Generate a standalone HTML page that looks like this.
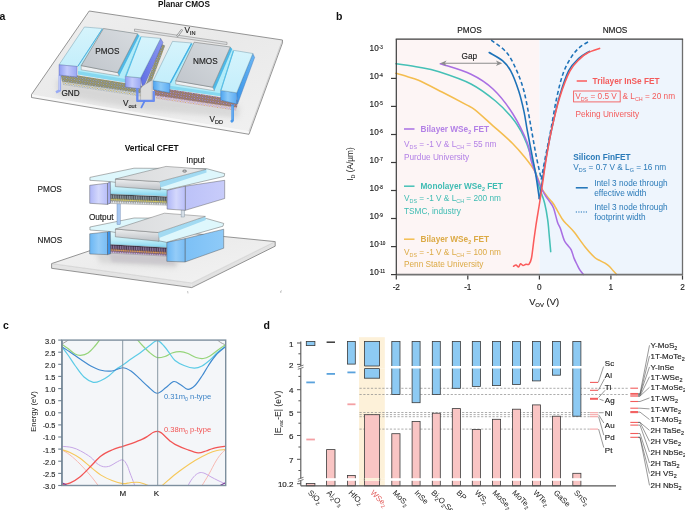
<!DOCTYPE html>
<html><head><meta charset="utf-8"><style>
html,body{margin:0;padding:0;background:#fff;}
svg{display:block;opacity:0.999;}
text{font-family:"Liberation Sans",sans-serif;}
</style></head><body>
<svg width="685" height="510" viewBox="0 0 685 510">
<rect width="685" height="510" fill="#fff"/>
<defs>
<linearGradient id="gSub" x1="0" y1="0" x2="1" y2="1"><stop offset="0" stop-color="#efefef"/><stop offset="0.5" stop-color="#e9e9e9"/><stop offset="1" stop-color="#f1f1f1"/></linearGradient>
<linearGradient id="gCyanTop" x1="0" y1="0" x2="0" y2="1"><stop offset="0" stop-color="#d6f4fc"/><stop offset="1" stop-color="#c4eefb"/></linearGradient>
<linearGradient id="gGate" x1="1" y1="0" x2="0" y2="1"><stop offset="0" stop-color="#d8dce0"/><stop offset="1" stop-color="#c0c5cb"/></linearGradient>
<linearGradient id="gPurpF" x1="0" y1="0" x2="1" y2="0"><stop offset="0" stop-color="#8e9cf2"/><stop offset="0.45" stop-color="#c3cbfb"/><stop offset="1" stop-color="#9aa7f4"/></linearGradient>
<linearGradient id="gPurpS" x1="0" y1="0" x2="1" y2="0"><stop offset="0" stop-color="#5f6fe4"/><stop offset="1" stop-color="#8b98f0"/></linearGradient>
<linearGradient id="gBlueF" x1="0" y1="0" x2="1" y2="0"><stop offset="0" stop-color="#4ea4f0"/><stop offset="0.45" stop-color="#8ccaf8"/><stop offset="1" stop-color="#5aaaf2"/></linearGradient>
<linearGradient id="gBlueS" x1="0" y1="0" x2="1" y2="0"><stop offset="0" stop-color="#3c96e8"/><stop offset="1" stop-color="#6ab6f4"/></linearGradient>
<linearGradient id="gGateF" x1="0" y1="0" x2="0" y2="1"><stop offset="0" stop-color="#eeeff0"/><stop offset="1" stop-color="#bcc0c5"/></linearGradient>
<linearGradient id="gU" x1="0" y1="0" x2="0" y2="1"><stop offset="0" stop-color="#e6f9fd"/><stop offset="0.55" stop-color="#c0eef9"/><stop offset="1" stop-color="#80d2ee"/></linearGradient>
<linearGradient id="gGate2" x1="0" y1="0" x2="1" y2="0"><stop offset="0" stop-color="#d9dbdd"/><stop offset="1" stop-color="#e8e9ea"/></linearGradient>
<linearGradient id="gLavF" x1="0" y1="0" x2="1" y2="0"><stop offset="0" stop-color="#aeb6f7"/><stop offset="0.5" stop-color="#d4d8fc"/><stop offset="1" stop-color="#b8bef8"/></linearGradient>
<linearGradient id="gLavS" x1="0" y1="0" x2="1" y2="0"><stop offset="0" stop-color="#bcc2f8"/><stop offset="1" stop-color="#c8ccfa"/></linearGradient>
<linearGradient id="gSkyF" x1="0" y1="0" x2="1" y2="0"><stop offset="0" stop-color="#6ab6f4"/><stop offset="0.5" stop-color="#94ccf8"/><stop offset="1" stop-color="#78bcf4"/></linearGradient>
<linearGradient id="gSkyS" x1="0" y1="0" x2="1" y2="0"><stop offset="0" stop-color="#7cc0f6"/><stop offset="1" stop-color="#8ecaf8"/></linearGradient>
<pattern id="latP" width="2.7" height="2.5" patternUnits="userSpaceOnUse" patternTransform="rotate(9)"><rect width="2.7" height="2.5" fill="#80847e"/><circle cx="0.8" cy="0.8" r="0.62" fill="#d2be3c"/><circle cx="2.15" cy="2.0" r="0.55" fill="#a4b2c2"/></pattern><pattern id="latP2" width="2.7" height="2.5" patternUnits="userSpaceOnUse" patternTransform="rotate(9)"><rect width="2.7" height="2.5" fill="#d4d6d8"/><circle cx="0.8" cy="0.8" r="0.6" fill="#7e90a6"/><circle cx="2.15" cy="2.0" r="0.55" fill="#bca848"/></pattern><pattern id="latN" width="2.7" height="2.5" patternUnits="userSpaceOnUse" patternTransform="rotate(9)"><rect width="2.7" height="2.5" fill="#84707a"/><circle cx="0.8" cy="0.8" r="0.62" fill="#dc9840"/><circle cx="2.15" cy="2.0" r="0.55" fill="#c09ad8"/></pattern><pattern id="latN2" width="2.7" height="2.5" patternUnits="userSpaceOnUse" patternTransform="rotate(9)"><rect width="2.7" height="2.5" fill="#dad2da"/><circle cx="0.8" cy="0.8" r="0.6" fill="#a880c8"/><circle cx="2.15" cy="2.0" r="0.55" fill="#d0a060"/></pattern>
<pattern id="latPc" width="2.3" height="10" patternUnits="userSpaceOnUse" patternTransform="translate(108.5,194) skewY(2.44)"><rect width="2.3" height="10" fill="#e4e6e8"/><rect width="2.3" height="5.2" fill="#4c545c"/><rect y="0" width="2.3" height="0.8" fill="#2e3238"/><rect x="0.4" y="0.8" width="0.55" height="3.6" fill="#dfe4ea"/><rect y="5.2" width="2.3" height="2.6" fill="#8c9096"/><circle cx="1.3" cy="5.4" r="0.85" fill="#e2d24e"/><circle cx="0.4" cy="7.6" r="0.6" fill="#f4f6f8"/><circle cx="1.6" cy="8.4" r="0.45" fill="#7d8894"/></pattern><pattern id="latNc" width="2.3" height="10" patternUnits="userSpaceOnUse" patternTransform="translate(108.5,244.3) skewY(3.3)"><rect width="2.3" height="10" fill="#e8e2ea"/><rect width="2.3" height="5.2" fill="#4a3a52"/><rect y="0" width="2.3" height="0.8" fill="#2e2234"/><rect x="0.4" y="0.8" width="0.55" height="3.6" fill="#d8b8e8"/><rect y="5.2" width="2.3" height="2.6" fill="#6e5a78"/><circle cx="1.3" cy="5.4" r="0.85" fill="#ec9e46"/><circle cx="0.4" cy="7.6" r="0.65" fill="#d4a8ec"/><circle cx="1.6" cy="8.4" r="0.45" fill="#8a64a8"/></pattern>
<filter id="blur2" x="-20%" y="-20%" width="140%" height="140%"><feGaussianBlur stdDeviation="2.5"/></filter><filter id="blur1" x="-20%" y="-30%" width="140%" height="160%"><feGaussianBlur stdDeviation="1.6"/></filter><linearGradient id="gSub2" x1="0" y1="0" x2="1" y2="1"><stop offset="0" stop-color="#f2f2f2"/><stop offset="0.5" stop-color="#ececec"/><stop offset="1" stop-color="#f3f3f3"/></linearGradient>
</defs>
<polygon points="31.5,94.5 249.0,131.3 249.0,134.3 31.5,97.5" fill="#f8f8f8" stroke="none" stroke-width="0.50" stroke-linejoin="round" />
<polygon points="282.5,40.0 282.5,42.8 249.0,134.3 249.0,131.3" fill="#f4f4f4" stroke="none" stroke-width="0.50" stroke-linejoin="round" />
<polygon points="89.2,11.0 282.5,40.0 249.0,131.3 31.5,94.5" fill="url(#gSub)" stroke="none" stroke-width="0.50" stroke-linejoin="round" />
<polyline points="31.5,94.5 89.2,11 282.5,40 282.5,42.8 249,134.3 31.5,97.5 31.5,94.5" fill="none" stroke="#6a6a6a" stroke-width="0.7" stroke-linejoin="round"/>
<line x1="282.5" y1="40" x2="249" y2="131.3" stroke="#9a9a9a" stroke-width="0.4"/>
<polygon points="56.0,80.0 150.0,94.0 240.0,106.0 238.0,118.0 150.0,111.0 58.0,95.0" fill="#c4c4c4" stroke="none" stroke-width="0.50" stroke-linejoin="round" filter="url(#blur2)" opacity="0.5"/>
<polygon points="134.5,29.0 227.0,42.3 227.0,44.6 134.5,31.3" fill="#dfe1e3" stroke="#7a7a7a" stroke-width="0.50" stroke-linejoin="round" />
<polyline points="177.6,35.6 181.6,30.4" fill="none" stroke="#7a7a7a" stroke-width="2.2" stroke-linecap="round"/>
<polyline points="177.6,35.6 181.6,30.4" fill="none" stroke="#dfe1e3" stroke-width="1.1" stroke-linecap="round"/>
<polygon points="62.0,81.0 143.0,93.0 143.0,97.0 63.0,85.0" fill="url(#latP2)" stroke="none" stroke-width="0.50" stroke-linejoin="round" />
<polygon points="155.0,95.0 237.0,107.0 236.0,110.8 156.0,98.8" fill="url(#latN2)" stroke="none" stroke-width="0.50" stroke-linejoin="round" />
<polygon points="60.0,72.5 143.0,86.0 143.0,93.5 62.0,81.5" fill="url(#latP)" stroke="none" stroke-width="0.50" stroke-linejoin="round" />
<polygon points="153.0,86.5 238.0,100.0 237.0,107.5 155.0,95.5" fill="url(#latN)" stroke="none" stroke-width="0.50" stroke-linejoin="round" />
<polyline points="59.8,75 59.8,90.3 56,92.3" fill="none" stroke="#98aaf4" stroke-width="2.6" stroke-linejoin="round"/>
<polyline points="59.5,76 59.5,90" fill="none" stroke="#c8d0fa" stroke-width="0.8"/>
<polygon points="102.5,28.5 138.0,33.8 140.9,36.6 125.5,76.3 125.5,82.5 78.0,74.5 78.0,67.5" fill="#b2ecf9" stroke="none" stroke-width="0.50" stroke-linejoin="round" />
<polygon points="78.0,71.0 125.5,79.0 125.5,82.5 78.0,74.5" fill="#86d8f0" stroke="none" stroke-width="0.50" stroke-linejoin="round" />
<polygon points="84.4,27.0 102.5,28.5 77.5,66.5 59.0,64.8" fill="url(#gCyanTop)" stroke="#5a8aa0" stroke-width="0.40" stroke-linejoin="round" />
<polygon points="59.0,64.8 77.0,66.5 77.0,77.0 59.0,75.0" fill="url(#gPurpF)" stroke="#5a64b0" stroke-width="0.40" stroke-linejoin="round" />
<line x1="102.3" y1="29" x2="77.8" y2="66.5" stroke="#46b6e8" stroke-width="1.0"/>
<polygon points="137.6,33.8 139.3,35.8 119.2,76.0 117.6,72.6" fill="#4fb8e6" stroke="none" stroke-width="0.50" stroke-linejoin="round" />
<polygon points="81.2,65.6 117.6,72.6 119.2,76.0 81.2,69.8" fill="#eef0f2" stroke="#7a7a7a" stroke-width="0.40" stroke-linejoin="round" />
<polygon points="103.5,28.5 137.6,33.8 117.6,72.6 81.2,65.6" fill="url(#gGate)" stroke="#6a6a6a" stroke-width="0.50" stroke-linejoin="round" />
<polygon points="161.5,44.0 165.2,45.5 146.5,95.0 142.6,93.0" fill="url(#latP)" stroke="none" stroke-width="0.50" stroke-linejoin="round" />
<polygon points="160.6,38.4 163.0,42.5 142.8,88.8 140.6,77.8" fill="url(#gPurpS)" stroke="#4a50a0" stroke-width="0.40" stroke-linejoin="round" />
<polygon points="125.3,76.3 140.6,77.8 140.6,88.8 125.3,87.0" fill="url(#gPurpF)" stroke="#5a64b0" stroke-width="0.40" stroke-linejoin="round" />
<polygon points="140.9,36.6 160.6,38.4 140.6,77.8 125.3,76.3" fill="url(#gCyanTop)" stroke="#5a8aa0" stroke-width="0.40" stroke-linejoin="round" />
<line x1="140.9" y1="37.1" x2="126" y2="76" stroke="#52c0ea" stroke-width="1.1"/>
<polygon points="140.6,88.8 142.5,86.0 152.2,80.0 152.2,101.3 140.6,101.3" fill="#dcdcdc" stroke="#8a8a8a" stroke-width="0.40" stroke-linejoin="round" />
<polyline points="137.3,88 137.3,100.9 153.8,100.9 153.8,91" fill="none" stroke="#6a8cf0" stroke-width="2.3" stroke-linejoin="round"/>
<line x1="144.6" y1="101.2" x2="141.4" y2="107.4" stroke="#5f86ee" stroke-width="1.8" stroke-linecap="round"/>
<polygon points="191.8,43.0 230.3,47.0 233.5,50.3 220.7,90.4 220.7,96.2 170.1,89.0 170.1,83.2" fill="#b2ecf9" stroke="none" stroke-width="0.50" stroke-linejoin="round" />
<polygon points="170.1,85.8 220.7,93.2 220.7,96.2 170.1,89.0" fill="#86d8f0" stroke="none" stroke-width="0.50" stroke-linejoin="round" />
<polygon points="153.2,80.8 170.1,83.2 169.5,92.8 153.2,89.5" fill="url(#gBlueF)" stroke="#3a70b0" stroke-width="0.40" stroke-linejoin="round" />
<polygon points="172.5,41.4 191.8,43.0 170.1,83.2 153.2,80.8" fill="url(#gCyanTop)" stroke="#5a8aa0" stroke-width="0.40" stroke-linejoin="round" />
<line x1="191.5" y1="43.6" x2="170.4" y2="82.9" stroke="#3fb2e6" stroke-width="1.3"/>
<polygon points="230.3,47.0 232.2,49.0 214.4,90.8 212.6,87.2" fill="#4fb8e6" stroke="none" stroke-width="0.50" stroke-linejoin="round" />
<polygon points="175.7,80.8 212.6,87.2 214.4,90.8 175.7,84.2" fill="#eef0f2" stroke="#7a7a7a" stroke-width="0.40" stroke-linejoin="round" />
<polygon points="194.2,42.2 230.3,47.0 212.6,87.2 175.7,80.8" fill="url(#gGate)" stroke="#6a6a6a" stroke-width="0.50" stroke-linejoin="round" />
<polygon points="252.8,53.5 254.6,57.5 237.6,104.0 236.7,92.8" fill="url(#gBlueS)" stroke="#3a70b0" stroke-width="0.40" stroke-linejoin="round" />
<polygon points="220.7,90.4 236.7,92.8 236.7,104.0 220.7,100.0" fill="url(#gBlueF)" stroke="#3a70b0" stroke-width="0.40" stroke-linejoin="round" />
<polygon points="233.5,50.3 252.8,53.5 236.7,92.8 220.7,90.4" fill="url(#gCyanTop)" stroke="#5a8aa0" stroke-width="0.40" stroke-linejoin="round" />
<line x1="233.4" y1="51" x2="221" y2="90.1" stroke="#52c0ea" stroke-width="1.1"/>
<polyline points="232.6,104.5 232.6,120.5 231,122" fill="none" stroke="#4a98ea" stroke-width="2.6" stroke-linejoin="round"/>
<line x1="232.1" y1="106" x2="232.1" y2="119.5" stroke="#8cc4f6" stroke-width="0.7"/>
<text x="107.4" y="54.3" font-size="8.20" fill="#222" stroke="#222" stroke-width="0.15" text-anchor="middle" font-weight="normal" >PMOS</text>
<text x="205.4" y="64.4" font-size="8.20" fill="#222" stroke="#222" stroke-width="0.15" text-anchor="middle" font-weight="normal" >NMOS</text>
<text x="61.4" y="96.1" font-size="8.20" fill="#222" stroke="#222" stroke-width="0.15" text-anchor="start" font-weight="normal" >GND</text>
<text x="123.0" y="106.1" font-size="8.20" fill="#222" stroke="#222" stroke-width="0.15" text-anchor="start" font-weight="normal" >V<tspan font-size="5.6" baseline-shift="-1.6">out</tspan></text>
<text x="184.4" y="33.2" font-size="8.20" fill="#222" stroke="#222" stroke-width="0.15" text-anchor="start" font-weight="normal" >V<tspan font-size="5.6" baseline-shift="-1.6">IN</tspan></text>
<text x="209.6" y="121.8" font-size="8.20" fill="#222" stroke="#222" stroke-width="0.15" text-anchor="start" font-weight="normal" >V<tspan font-size="5.6" baseline-shift="-1.6">DD</tspan></text>
<text x="158.0" y="6.7" font-size="8.20" fill="#111" stroke="#111" stroke-width="0.00" text-anchor="start" font-weight="bold" >Planar CMOS</text>
<text x="-0.4" y="19.6" font-size="10.50" fill="#111" stroke="#111" stroke-width="0.00" text-anchor="start" font-weight="bold" >a</text>
<polygon points="51.6,263.6 191.8,283.0 191.8,287.6 51.6,268.3" fill="#e4e4e4" stroke="none" stroke-width="0.50" stroke-linejoin="round" />
<polygon points="191.8,283.0 275.2,241.6 275.2,246.2 191.8,287.6" fill="#e2e2e2" stroke="none" stroke-width="0.50" stroke-linejoin="round" />
<polygon points="152.7,229.5 275.2,241.6 191.8,283.0 51.6,263.6" fill="url(#gSub2)" stroke="none" stroke-width="0.50" stroke-linejoin="round" />
<polyline points="51.6,268.3 51.6,263.6 152.7,229.5 275.2,241.6 275.2,246.2 191.8,287.6 51.6,268.3" fill="none" stroke="#6a6a6a" stroke-width="0.7" stroke-linejoin="round"/>
<polyline points="51.6,263.6 191.8,283.0 275.2,241.6" fill="none" stroke="#b4b4b4" stroke-width="0.4"/>
<polygon points="92.0,245.0 190.0,248.0 175.0,268.0 100.0,263.0" fill="#c4c4c4" stroke="none" stroke-width="0.50" stroke-linejoin="round" filter="url(#blur2)" opacity="0.5"/>
<polygon points="108.0,252.0 168.0,255.5 176.0,265.0 112.0,262.0" fill="#c8c4ca" stroke="none" stroke-width="0.50" stroke-linejoin="round" filter="url(#blur1)" opacity="0.8"/>
<polygon points="108.5,231.0 166.8,240.0 166.8,248.0 108.5,244.8" fill="url(#gU)" stroke="none" stroke-width="0.50" stroke-linejoin="round" />
<polygon points="108.5,244.3 166.8,247.6 166.8,256.2 108.5,253.0" fill="url(#latNc)" stroke="#555" stroke-width="0.30" stroke-linejoin="round" />
<polygon points="89.7,233.8 107.5,231.9 107.5,254.6 89.7,254.0" fill="url(#gSkyF)" stroke="#555" stroke-width="0.45" stroke-linejoin="round" />
<polygon points="107.5,231.9 110.3,230.5 110.6,253.8 107.5,254.6" fill="#3c94ea" stroke="#555" stroke-width="0.45" stroke-linejoin="round" />
<polygon points="185.0,238.7 223.7,229.2 223.7,248.2 185.0,262.0" fill="url(#gSkyS)" stroke="#555" stroke-width="0.45" stroke-linejoin="round" />
<polygon points="166.8,242.3 185.0,238.7 185.0,262.0 166.8,261.3" fill="url(#gSkyF)" stroke="#555" stroke-width="0.45" stroke-linejoin="round" />
<polygon points="89.9,227.0 134.0,218.0 206.5,218.5 223.7,223.4 223.0,226.2 166.5,242.3 110.2,231.5 89.9,230.0" fill="#def7fc" stroke="#555" stroke-width="0.45" stroke-linejoin="round" />
<polygon points="115.4,229.0 158.0,232.5 159.0,234.0 159.0,241.3 115.4,236.8" fill="url(#gGateF)" stroke="#666" stroke-width="0.45" stroke-linejoin="round" />
<polygon points="158.0,232.5 205.4,216.4 205.8,220.0 159.0,238.0" fill="#a2daf2" stroke="none" stroke-width="0.50" stroke-linejoin="round" />
<polygon points="115.4,229.0 164.4,213.2 205.4,216.4 158.0,232.5" fill="url(#gGate2)" stroke="#666" stroke-width="0.45" stroke-linejoin="round" />
<rect x="117" y="200" width="3.2" height="24.5" fill="#a8c8f2" stroke="#6080b0" stroke-width="0.4"/>
<rect x="181.1" y="208" width="3.4" height="9" fill="#d4dde6" stroke="#7a8a9a" stroke-width="0.4"/>
<polygon points="108.5,181.0 167.1,189.5 167.1,196.0 108.5,194.5" fill="url(#gU)" stroke="none" stroke-width="0.50" stroke-linejoin="round" />
<polygon points="108.5,194.0 167.1,196.5 167.1,205.2 108.5,203.4" fill="url(#latPc)" stroke="#555" stroke-width="0.30" stroke-linejoin="round" />
<polygon points="89.7,185.3 107.5,183.2 107.5,204.4 89.7,203.3" fill="url(#gLavF)" stroke="#555" stroke-width="0.45" stroke-linejoin="round" />
<polygon points="107.5,183.2 110.3,181.8 110.6,202.9 107.5,204.4" fill="#a4acf2" stroke="#555" stroke-width="0.45" stroke-linejoin="round" />
<polygon points="185.3,186.2 224.7,180.3 224.7,198.5 185.3,210.3" fill="url(#gLavS)" stroke="#555" stroke-width="0.45" stroke-linejoin="round" />
<polygon points="167.1,190.3 185.3,186.2 185.3,210.3 167.1,209.1" fill="url(#gLavF)" stroke="#555" stroke-width="0.45" stroke-linejoin="round" />
<polygon points="89.9,177.4 134.0,168.2 206.5,168.6 224.7,173.6 224.2,176.4 167.1,189.8 110.2,181.6 89.9,180.3" fill="#def7fc" stroke="#555" stroke-width="0.45" stroke-linejoin="round" />
<polygon points="115.4,179.0 159.6,181.7 160.5,183.0 160.5,190.0 115.4,186.6" fill="url(#gGateF)" stroke="#666" stroke-width="0.45" stroke-linejoin="round" />
<polygon points="159.6,181.7 206.2,169.3 206.6,172.5 160.5,187.5" fill="#a2daf2" stroke="none" stroke-width="0.50" stroke-linejoin="round" />
<polygon points="115.4,179.0 166.0,166.4 206.2,169.3 159.6,181.7" fill="url(#gGate2)" stroke="#666" stroke-width="0.45" stroke-linejoin="round" />
<ellipse cx="184.6" cy="171.1" rx="1.9" ry="1.1" fill="#c8ccd0" stroke="#444" stroke-width="0.55"/>
<text x="37.6" y="192.1" font-size="8.20" fill="#222" stroke="#222" stroke-width="0.15" text-anchor="start" font-weight="normal" >PMOS</text>
<text x="37.6" y="242.7" font-size="8.20" fill="#222" stroke="#222" stroke-width="0.15" text-anchor="start" font-weight="normal" >NMOS</text>
<text x="88.9" y="219.8" font-size="8.20" fill="#222" stroke="#222" stroke-width="0.15" text-anchor="start" font-weight="normal" >Output</text>
<text x="186.3" y="162.9" font-size="8.20" fill="#222" stroke="#222" stroke-width="0.15" text-anchor="start" font-weight="normal" >Input</text>
<text x="124.7" y="150.9" font-size="8.40" fill="#111" stroke="#111" stroke-width="0.00" text-anchor="start" font-weight="bold" >Vertical CFET</text>
<path d="M187.6,291 l0.4,2.4" stroke="#999" stroke-width="0.6"/>
<path d="M280.6,291.2 q0.6,-0.8 1.2,-0.4 M280.8,291 l0,2" stroke="#999" stroke-width="0.6" fill="none"/>
<rect x="396.3" y="39.2" width="143.1" height="235.4" fill="#fdf5f5"/>
<rect x="539.4" y="39.2" width="143.1" height="235.4" fill="#eef5fd"/>
<g fill="none" stroke-linecap="round" stroke-linejoin="round">
<path d="M396.0,73.3 C397.8,73.8 403.2,75.3 407.0,76.5 C410.8,77.7 412.7,77.7 418.5,80.3 C424.3,82.9 434.1,88.0 442.0,92.0 C449.9,96.0 460.1,101.4 465.6,104.4 C471.1,107.4 470.4,106.2 475.0,109.8 C479.6,113.4 486.7,120.2 493.0,125.8 C499.3,131.4 507.3,138.2 512.6,143.5 C517.9,148.8 521.2,152.8 525.0,157.6 C528.8,162.3 532.5,166.9 535.2,172.0 C538.0,177.1 539.3,183.6 541.5,188.0 C543.7,192.4 546.6,195.6 548.6,198.3 C550.6,201.0 551.2,200.5 553.5,204.0 C555.8,207.5 560.0,215.6 562.4,219.2 C564.8,222.8 566.0,223.4 568.0,225.5 C570.0,227.6 571.3,228.5 574.1,232.0 C576.9,235.5 581.5,242.4 584.9,246.7 C588.3,250.9 592.2,255.2 594.7,257.5 C597.2,259.8 598.3,259.7 600.0,260.6 C601.7,261.6 603.4,262.2 605.0,263.2 C606.6,264.2 608.2,265.3 609.5,266.5 C610.8,267.7 611.8,269.2 613.0,270.5 C614.2,271.8 616.0,273.8 616.6,274.5" stroke="#f4bd4f" stroke-width="1.55"/>
<path d="M396.0,63.7 C399.8,64.3 411.8,65.9 419.0,67.2 C426.2,68.5 430.3,69.0 439.0,71.8 C447.7,74.6 461.6,79.1 471.0,84.0 C480.4,88.9 488.6,95.3 495.5,101.0 C502.4,106.7 508.2,113.1 512.6,118.4 C517.0,123.7 519.5,128.5 522.0,133.0 C524.5,137.5 525.7,140.9 527.4,145.4 C529.1,149.9 530.6,155.6 532.0,160.0 C533.4,164.4 534.4,167.7 535.5,172.0 C536.6,176.3 537.8,182.2 538.8,185.9 C539.8,189.7 540.8,191.6 541.8,194.5 C542.8,197.4 543.7,199.4 544.7,203.5 C545.7,207.6 546.9,213.9 547.6,219.2 C548.4,224.4 548.7,229.6 549.2,235.0 C549.7,240.4 550.5,248.8 550.7,251.6" stroke="#45c0b6" stroke-width="1.55"/>
<path d="M440.3,63.7 C445.4,65.5 462.2,70.0 471.0,74.2 C479.8,78.4 486.1,82.5 493.0,89.0 C499.9,95.5 506.9,104.5 512.6,113.5 C518.3,122.5 524.3,135.2 527.4,143.0 C530.5,150.8 529.7,155.2 531.0,160.0 C532.3,164.8 533.7,168.2 535.0,172.0 C536.3,175.8 537.8,179.4 539.0,182.5 C540.2,185.6 541.3,188.2 542.5,190.5 C543.7,192.8 544.8,194.7 546.0,196.5 C547.2,198.3 548.4,199.7 549.6,201.6 C550.9,203.5 552.2,204.6 553.5,208.0 C554.8,211.4 556.4,218.8 557.5,222.2 C558.6,225.6 559.3,225.4 560.4,228.5 C561.5,231.6 563.1,237.8 564.3,240.5 C565.5,243.2 566.4,243.4 567.5,245.0 C568.6,246.6 570.1,247.6 571.2,249.8 C572.3,252.0 573.1,255.9 574.1,258.4 C575.1,260.8 576.0,262.5 577.0,264.5 C578.0,266.5 578.9,268.5 580.0,270.2 C581.1,271.9 582.9,273.8 583.5,274.5" stroke="#a96fe3" stroke-width="1.55"/>
<path d="M489.2,52.5 C491.4,53.9 498.9,57.6 502.5,60.7 C506.1,63.8 508.0,65.8 510.7,70.9 C513.4,76.0 516.6,84.5 518.8,91.3 C521.0,98.1 522.6,105.2 524.0,111.7 C525.4,118.2 526.0,123.6 527.2,130.0 C528.4,136.4 529.6,142.8 531.0,150.0 C532.4,157.2 534.1,164.9 535.5,173.0 C536.9,181.1 538.7,194.4 539.3,198.7" stroke="#1d72b8" stroke-width="1.55"/>
<path d="M539.3,198.7 C539.8,195.6 541.4,186.8 542.5,180.0 C543.6,173.2 544.5,166.3 546.0,158.0 C547.5,149.7 549.3,140.1 551.5,130.0 C553.7,119.9 556.4,107.2 559.2,97.4 C562.1,87.6 565.3,77.4 568.6,70.9 C571.9,64.4 575.3,61.7 578.8,58.4 C582.3,55.1 587.6,52.5 589.4,51.3" stroke="#1d72b8" stroke-width="1.55"/>
<path d="M491.2,40.2 C493.8,42.2 502.3,47.4 506.6,52.5 C510.9,57.6 513.9,64.4 516.8,70.9 C519.7,77.4 522.0,83.8 524.0,91.3 C526.0,98.8 527.8,109.3 529.0,115.8 C530.2,122.2 530.3,123.5 531.5,130.0 C532.7,136.5 534.4,146.8 536.0,155.0 C537.6,163.2 540.4,175.2 541.3,179.3" stroke="#1d72b8" stroke-width="1.55" stroke-dasharray="4.0,2.6" stroke-linecap="butt"/>
<path d="M541.3,179.3 C541.9,176.1 543.2,168.2 544.8,160.0 C546.4,151.8 548.8,140.4 550.8,130.0 C552.8,119.6 554.7,106.9 556.8,97.4 C558.9,87.9 560.8,79.7 563.3,72.9 C565.8,66.1 568.9,60.9 571.6,56.6 C574.3,52.4 576.7,50.0 579.6,47.4 C582.5,44.8 587.7,42.2 589.3,41.2" stroke="#1d72b8" stroke-width="1.55" stroke-dasharray="4.0,2.6" stroke-linecap="butt"/>
<path d="M513.6,266.3 C514.0,266.1 515.2,264.9 516.0,265.0 C516.8,265.1 517.8,267.2 518.5,267.0 C519.2,266.8 519.8,264.1 520.5,263.8 C521.2,263.6 522.1,265.4 523.0,265.5 C523.9,265.6 525.0,264.4 526.0,264.2 C527.0,264.0 528.1,265.2 529.0,264.2 C529.9,263.2 530.8,261.5 531.5,258.0 C532.2,254.5 532.8,248.5 533.5,243.0 C534.2,237.5 535.1,231.2 536.0,225.0 C536.9,218.8 537.9,213.4 539.1,206.0 C540.3,198.6 541.9,188.3 543.0,180.6 C544.1,172.9 544.6,168.4 546.0,160.0 C547.4,151.6 549.2,140.4 551.5,130.0 C553.8,119.6 556.6,107.2 559.7,97.4 C562.8,87.6 566.6,77.4 570.0,70.9 C573.4,64.4 577.1,61.7 580.1,58.6 C583.1,55.5 585.0,54.2 588.3,52.5 C591.5,50.8 597.7,49.1 599.6,48.4" stroke="#fb5b5b" stroke-width="1.55"/>
</g>
<g stroke="#8c8c8c" stroke-width="1.1" fill="none"><line x1="443" y1="63.2" x2="499.5" y2="63.2"/></g>
<path d="M440.2,63.2 L446.6,60.4 L444.8,63.2 L446.6,66.0 Z" fill="#8c8c8c"/><path d="M502.3,63.2 L495.9,60.4 L497.7,63.2 L495.9,66.0 Z" fill="#8c8c8c"/>
<text x="469.3" y="59.0" font-size="8.25" fill="#222" stroke="#222" stroke-width="0.15" text-anchor="middle" font-weight="normal" >Gap</text>
<line x1="682.5" y1="39.2" x2="682.5" y2="274.6" stroke="#6e6e6e" stroke-width="1.3"/>
<line x1="396.3" y1="274.6" x2="683.1" y2="274.6" stroke="#727272" stroke-width="1.8"/>
<line x1="395.7" y1="39.2" x2="683.1" y2="39.2" stroke="#3c3c3c" stroke-width="1.2"/>
<line x1="396.3" y1="39.2" x2="396.3" y2="275.5" stroke="#3c3c3c" stroke-width="1.2"/>
<text x="369.6" y="51.1" font-size="8.2" fill="#222" stroke="#222" stroke-width="0.15">10<tspan font-size="4.6" baseline-shift="2.2">-3</tspan></text>
<line x1="391.0" y1="78.4" x2="396.3" y2="78.4" stroke="#3c3c3c" stroke-width="1.2"/>
<text x="369.6" y="79.1" font-size="8.2" fill="#222" stroke="#222" stroke-width="0.15">10<tspan font-size="4.6" baseline-shift="2.2">-4</tspan></text>
<line x1="391.0" y1="106.4" x2="396.3" y2="106.4" stroke="#3c3c3c" stroke-width="1.2"/>
<text x="369.6" y="107.1" font-size="8.2" fill="#222" stroke="#222" stroke-width="0.15">10<tspan font-size="4.6" baseline-shift="2.2">-5</tspan></text>
<line x1="391.0" y1="134.5" x2="396.3" y2="134.5" stroke="#3c3c3c" stroke-width="1.2"/>
<text x="369.6" y="135.2" font-size="8.2" fill="#222" stroke="#222" stroke-width="0.15">10<tspan font-size="4.6" baseline-shift="2.2">-6</tspan></text>
<line x1="391.0" y1="162.5" x2="396.3" y2="162.5" stroke="#3c3c3c" stroke-width="1.2"/>
<text x="369.6" y="163.2" font-size="8.2" fill="#222" stroke="#222" stroke-width="0.15">10<tspan font-size="4.6" baseline-shift="2.2">-7</tspan></text>
<line x1="391.0" y1="190.5" x2="396.3" y2="190.5" stroke="#3c3c3c" stroke-width="1.2"/>
<text x="369.6" y="191.2" font-size="8.2" fill="#222" stroke="#222" stroke-width="0.15">10<tspan font-size="4.6" baseline-shift="2.2">-8</tspan></text>
<line x1="391.0" y1="218.5" x2="396.3" y2="218.5" stroke="#3c3c3c" stroke-width="1.2"/>
<text x="369.6" y="219.2" font-size="8.2" fill="#222" stroke="#222" stroke-width="0.15">10<tspan font-size="4.6" baseline-shift="2.2">-9</tspan></text>
<line x1="391.0" y1="246.6" x2="396.3" y2="246.6" stroke="#3c3c3c" stroke-width="1.2"/>
<text x="369.6" y="247.3" font-size="8.2" fill="#222" stroke="#222" stroke-width="0.15">10<tspan font-size="4.6" baseline-shift="2.2">-10</tspan></text>
<line x1="391.0" y1="274.6" x2="396.3" y2="274.6" stroke="#3c3c3c" stroke-width="1.2"/>
<text x="369.6" y="275.3" font-size="8.2" fill="#222" stroke="#222" stroke-width="0.15">10<tspan font-size="4.6" baseline-shift="2.2">-11</tspan></text>
<line x1="396.3" y1="275.5" x2="396.3" y2="279.6" stroke="#3c3c3c" stroke-width="1.2"/>
<text x="396.3" y="290.0" font-size="8.25" fill="#222" stroke="#222" stroke-width="0.15" text-anchor="middle" font-weight="normal" >-2</text>
<line x1="467.8" y1="275.5" x2="467.8" y2="279.6" stroke="#3c3c3c" stroke-width="1.2"/>
<text x="467.8" y="290.0" font-size="8.25" fill="#222" stroke="#222" stroke-width="0.15" text-anchor="middle" font-weight="normal" >-1</text>
<line x1="539.4" y1="275.5" x2="539.4" y2="279.6" stroke="#3c3c3c" stroke-width="1.2"/>
<text x="539.4" y="290.0" font-size="8.25" fill="#222" stroke="#222" stroke-width="0.15" text-anchor="middle" font-weight="normal" >0</text>
<line x1="610.9" y1="275.5" x2="610.9" y2="279.6" stroke="#3c3c3c" stroke-width="1.2"/>
<text x="610.9" y="290.0" font-size="8.25" fill="#222" stroke="#222" stroke-width="0.15" text-anchor="middle" font-weight="normal" >1</text>
<line x1="682.5" y1="275.5" x2="682.5" y2="279.6" stroke="#3c3c3c" stroke-width="1.2"/>
<text x="682.5" y="290.0" font-size="8.25" fill="#222" stroke="#222" stroke-width="0.15" text-anchor="middle" font-weight="normal" >2</text>
<text x="544.1" y="305.2" font-size="9.30" fill="#222" stroke="#222" stroke-width="0.15" text-anchor="middle" font-weight="normal" >V<tspan font-size="6.0" baseline-shift="-2.1">OV</tspan> (V)</text>
<text transform="translate(353.3,164) rotate(-90)" font-size="8.3" fill="#222" text-anchor="middle">I<tspan font-size="5.4" baseline-shift="-2.0">D</tspan> (A/µm)</text>
<text x="469.5" y="33.0" font-size="8.25" fill="#222" stroke="#222" stroke-width="0.15" text-anchor="middle" font-weight="normal" >PMOS</text>
<text x="615.0" y="33.0" font-size="8.25" fill="#222" stroke="#222" stroke-width="0.15" text-anchor="middle" font-weight="normal" >NMOS</text>
<text x="335.9" y="19.5" font-size="10.50" fill="#111" stroke="#111" stroke-width="0.00" text-anchor="start" font-weight="bold" >b</text>
<line x1="404" y1="129" x2="414.5" y2="129" stroke="#a96fe3" stroke-width="1.5"/>
<text x="420.5" y="132.0" font-size="8.25" fill="#b380e6" stroke="#b380e6" stroke-width="0.00" text-anchor="start" font-weight="bold" >Bilayer WSe<tspan font-size="5.4" baseline-shift="-2.0">2</tspan> FET</text>
<text x="404.0" y="146.5" font-size="8.25" fill="#b380e6" stroke="#b380e6" stroke-width="0.00" text-anchor="start" font-weight="normal" >V<tspan font-size="5.4" baseline-shift="-2.0">DS</tspan> = -1 V &amp; L<tspan font-size="5.4" baseline-shift="-2.0">CH</tspan> = 55 nm</text>
<text x="404.0" y="159.6" font-size="8.25" fill="#b380e6" stroke="#b380e6" stroke-width="0.00" text-anchor="start" font-weight="normal" >Purdue University</text>
<line x1="404" y1="186.2" x2="414.5" y2="186.2" stroke="#45c0b6" stroke-width="1.5"/>
<text x="420.5" y="189.0" font-size="8.25" fill="#3fbcb3" stroke="#3fbcb3" stroke-width="0.00" text-anchor="start" font-weight="bold" >Monolayer WSe<tspan font-size="5.4" baseline-shift="-2.0">2</tspan> FET</text>
<text x="404.0" y="201.0" font-size="8.25" fill="#3fbcb3" stroke="#3fbcb3" stroke-width="0.00" text-anchor="start" font-weight="normal" >V<tspan font-size="5.4" baseline-shift="-2.0">DS</tspan> = -1 V &amp; L<tspan font-size="5.4" baseline-shift="-2.0">CH</tspan> = 200 nm</text>
<text x="404.0" y="213.8" font-size="8.25" fill="#3fbcb3" stroke="#3fbcb3" stroke-width="0.00" text-anchor="start" font-weight="normal" >TSMC, industry</text>
<line x1="404" y1="239.2" x2="414.5" y2="239.2" stroke="#f4bd4f" stroke-width="1.5"/>
<text x="420.5" y="242.0" font-size="8.25" fill="#dcaa45" stroke="#dcaa45" stroke-width="0.00" text-anchor="start" font-weight="bold" >Bilayer WSe<tspan font-size="5.4" baseline-shift="-2.0">2</tspan> FET</text>
<text x="404.0" y="254.5" font-size="8.25" fill="#dcaa45" stroke="#dcaa45" stroke-width="0.00" text-anchor="start" font-weight="normal" >V<tspan font-size="5.4" baseline-shift="-2.0">DS</tspan> = -1 V &amp; L<tspan font-size="5.4" baseline-shift="-2.0">CH</tspan> = 100 nm</text>
<text x="404.0" y="267.1" font-size="8.25" fill="#dcaa45" stroke="#dcaa45" stroke-width="0.00" text-anchor="start" font-weight="normal" >Penn State University</text>
<line x1="576.7" y1="81" x2="587" y2="81" stroke="#fb5b5b" stroke-width="1.5"/>
<text x="592.6" y="84.0" font-size="8.25" fill="#f45b5b" stroke="#f45b5b" stroke-width="0.00" text-anchor="start" font-weight="bold" >Trilayer InSe FET</text>
<rect x="573.6" y="91" width="46.6" height="10.9" fill="none" stroke="#f45b5b" stroke-width="0.9"/>
<text x="575.2" y="99.0" font-size="8.25" fill="#f45b5b" stroke="#f45b5b" stroke-width="0.00" text-anchor="start" font-weight="normal" >V<tspan font-size="5.4" baseline-shift="-2.0">DS</tspan> = 0.5 V</text>
<text x="622.5" y="99.0" font-size="8.25" fill="#f45b5b" stroke="#f45b5b" stroke-width="0.00" text-anchor="start" font-weight="normal" >&amp; L<tspan font-size="5.4" baseline-shift="-2.0">CH</tspan> = 20 nm</text>
<text x="575.4" y="116.6" font-size="8.25" fill="#f45b5b" stroke="#f45b5b" stroke-width="0.00" text-anchor="start" font-weight="normal" >Peking University</text>
<text x="573.3" y="159.6" font-size="8.25" fill="#2a7ab8" stroke="#2a7ab8" stroke-width="0.00" text-anchor="start" font-weight="bold" >Silicon FinFET</text>
<text x="573.3" y="170.0" font-size="8.25" fill="#2a7ab8" stroke="#2a7ab8" stroke-width="0.00" text-anchor="start" font-weight="normal" >V<tspan font-size="5.4" baseline-shift="-2.0">DS</tspan> = 0.7 V &amp; L<tspan font-size="5.4" baseline-shift="-2.0">G</tspan> = 16 nm</text>
<line x1="575.8" y1="187.8" x2="587.8" y2="187.8" stroke="#1d72b8" stroke-width="1.5"/>
<text x="594.2" y="186.0" font-size="8.25" fill="#2a7ab8" stroke="#2a7ab8" stroke-width="0.00" text-anchor="start" font-weight="normal" >Intel 3 node through</text>
<text x="594.2" y="196.2" font-size="8.25" fill="#2a7ab8" stroke="#2a7ab8" stroke-width="0.00" text-anchor="start" font-weight="normal" >effective width</text>
<line x1="575.8" y1="212" x2="587.8" y2="212" stroke="#1d72b8" stroke-width="1.2" stroke-dasharray="1.2,1.3"/>
<text x="594.2" y="209.6" font-size="8.25" fill="#2a7ab8" stroke="#2a7ab8" stroke-width="0.00" text-anchor="start" font-weight="normal" >Intel 3 node through</text>
<text x="594.2" y="219.8" font-size="8.25" fill="#2a7ab8" stroke="#2a7ab8" stroke-width="0.00" text-anchor="start" font-weight="normal" >footprint width</text>
<rect x="61.9" y="340.1" width="163.8" height="145.4" fill="#f4f6f9"/>
<defs><clipPath id="cclip"><rect x="61.9" y="340.1" width="163.8" height="145.4"/></clipPath></defs>
<g clip-path="url(#cclip)" fill="none" stroke-width="1.2" stroke-linecap="round">
<path d="M61.5,344.2 C61.9,344.0 63.1,343.3 64.0,342.8 C64.9,342.3 66.0,341.7 67.0,341.0 C68.0,340.3 69.5,338.9 70.0,338.5" stroke="#9a9a9a" stroke-width="0.9"/>
<path d="M216.0,338.5 C216.5,339.0 217.9,340.5 219.0,341.3 C220.1,342.1 221.3,342.9 222.5,343.5 C223.7,344.1 225.4,344.8 226.0,345.0" stroke="#9a9a9a" stroke-width="0.9"/>
<path d="M61.5,344.0 C62.6,344.8 65.8,346.8 68.0,348.5 C70.2,350.2 72.9,352.9 75.0,354.0 C77.1,355.1 78.3,355.6 80.5,355.4 C82.7,355.2 85.6,354.6 88.0,353.0 C90.4,351.4 92.8,348.5 95.0,346.0 C97.2,343.5 100.0,339.3 101.0,338.0" stroke="#95d47a"/>
<path d="M136.0,338.0 C137.0,339.2 139.8,342.7 142.0,345.0 C144.2,347.3 146.5,349.9 149.0,352.0 C151.5,354.1 154.5,356.8 157.2,357.5 C159.9,358.2 162.5,357.2 165.0,356.5 C167.5,355.8 169.5,353.8 172.0,353.0 C174.5,352.2 177.5,351.5 180.2,351.6 C182.9,351.7 185.4,352.5 188.0,353.5 C190.6,354.5 193.5,356.7 196.0,357.5 C198.5,358.3 200.9,358.8 203.2,358.5 C205.5,358.2 207.5,357.4 210.0,356.0 C212.5,354.6 215.3,351.9 218.0,350.0 C220.7,348.1 224.7,345.4 226.0,344.5" stroke="#95d47a"/>
<path d="M61.5,346.3 C62.6,347.8 65.7,351.7 68.0,355.0 C70.3,358.3 72.7,362.3 75.4,366.0 C78.1,369.7 81.0,374.3 84.0,377.0 C87.0,379.7 90.5,381.7 93.3,382.3 C96.1,382.9 98.4,381.6 101.0,380.5 C103.6,379.4 106.2,377.7 108.7,375.9 C111.2,374.1 113.7,371.3 116.0,369.5 C118.3,367.7 120.2,366.9 122.7,365.1 C125.2,363.4 128.1,361.0 131.0,359.0 C133.9,357.0 137.0,355.2 140.0,353.0 C143.0,350.8 146.1,348.1 149.0,346.0 C151.9,343.9 154.7,340.6 157.2,340.6 C159.7,340.6 161.9,343.8 164.0,346.0 C166.1,348.2 168.2,351.6 170.0,354.0 C171.8,356.4 172.7,358.6 175.0,360.5 C177.3,362.4 180.8,364.2 184.0,365.5 C187.2,366.8 191.2,368.1 194.2,368.2 C197.2,368.3 199.4,367.4 202.0,366.0 C204.6,364.6 207.3,362.3 210.0,360.0 C212.7,357.7 215.4,354.2 218.0,352.0 C220.6,349.8 224.4,347.4 225.7,346.5" stroke="#5ccbe6"/>
<path d="M61.5,346.5 C62.9,347.4 66.8,349.9 70.0,352.0 C73.2,354.1 77.0,357.0 80.5,359.3 C84.0,361.6 87.4,364.2 90.8,366.0 C94.2,367.8 97.5,369.5 101.0,370.3 C104.5,371.1 108.4,371.4 112.0,371.0 C115.6,370.6 119.5,367.7 122.7,367.7 C125.9,367.7 128.2,369.2 131.0,371.0 C133.8,372.8 136.5,375.8 139.3,378.4 C142.1,381.0 145.0,384.0 148.0,386.5 C151.0,389.0 154.2,393.1 157.2,393.3 C160.2,393.5 163.2,389.5 166.0,387.5 C168.8,385.5 171.3,381.9 173.8,381.5 C176.3,381.1 178.7,383.7 181.0,385.0 C183.3,386.3 185.6,389.3 187.9,389.4 C190.2,389.5 192.7,387.7 195.0,385.5 C197.3,383.3 199.8,379.3 202.0,376.0 C204.2,372.7 206.0,369.2 208.3,365.7 C210.6,362.2 213.1,358.2 216.0,355.0 C218.9,351.8 224.1,347.9 225.7,346.5" stroke="#4089cf" stroke-width="1.15"/>
<path d="M61.5,449.6 C62.9,450.5 66.9,452.6 70.0,455.0 C73.1,457.4 76.7,460.7 80.0,464.0 C83.3,467.3 86.9,471.4 90.0,475.0 C93.1,478.6 97.0,484.0 98.4,485.8" stroke="#f7b9b2" stroke-width="1"/>
<path d="M201.9,485.8 C203.1,483.8 206.7,478.1 209.0,474.0 C211.3,469.9 214.0,464.3 216.0,461.0 C218.0,457.7 219.4,455.9 221.0,454.0 C222.6,452.1 224.9,450.3 225.7,449.6" stroke="#f7b9b2" stroke-width="1"/>
<path d="M61.5,446.3 C63.2,446.5 68.8,446.7 72.0,447.5 C75.2,448.3 77.4,449.3 80.5,450.9 C83.6,452.5 88.0,455.2 90.8,457.3 C93.5,459.4 94.9,461.9 97.0,463.5 C99.1,465.1 101.3,466.3 103.5,466.7 C105.7,467.1 107.9,466.7 110.0,466.0 C112.1,465.3 113.9,463.5 116.0,462.5 C118.1,461.5 120.9,459.4 122.7,459.8 C124.5,460.2 125.8,462.8 127.0,465.0 C128.2,467.2 128.8,469.8 130.0,473.0 C131.2,476.2 133.2,481.2 134.2,484.0 C135.2,486.8 135.7,489.0 136.0,490.0" stroke="#c6a6e6" stroke-width="1"/>
<path d="M186.0,490.0 C186.7,488.7 188.5,484.4 190.0,482.0 C191.5,479.6 193.3,477.1 195.0,475.5 C196.7,473.9 198.4,472.9 200.1,472.6 C201.8,472.3 203.2,472.8 205.0,473.5 C206.8,474.2 208.8,475.7 211.0,476.9 C213.2,478.1 215.6,479.3 218.0,480.5 C220.4,481.7 224.4,483.4 225.7,484.0" stroke="#c6a6e6" stroke-width="1"/>
<path d="M61.5,449.6 C62.9,450.1 66.8,451.0 70.0,452.5 C73.2,454.0 77.2,456.2 80.5,458.5 C83.8,460.8 86.6,463.7 90.0,466.5 C93.4,469.3 97.3,472.8 101.0,475.1 C104.7,477.4 108.4,479.1 112.0,480.5 C115.6,481.9 119.7,483.2 122.7,483.6 C125.7,484.0 127.7,482.9 130.0,482.7 C132.3,482.5 134.6,482.2 136.8,482.3 C139.0,482.4 141.1,482.9 143.0,483.5 C144.9,484.1 146.8,485.0 148.3,485.6 C149.8,486.2 151.4,486.8 152.0,487.0" stroke="#f6c85a" stroke-width="1.1"/>
<path d="M158.0,487.0 C158.7,486.7 160.0,487.1 162.3,485.4 C164.6,483.7 168.6,479.8 172.0,477.0 C175.4,474.2 178.9,471.6 182.7,468.8 C186.5,466.1 190.7,463.1 195.0,460.5 C199.3,457.9 204.6,455.1 208.3,453.4 C212.0,451.7 214.1,451.1 217.0,450.5 C219.9,449.9 224.2,449.8 225.7,449.6" stroke="#f6c85a" stroke-width="1.1"/>
<path d="M61.5,484.6 C63.0,484.3 67.1,484.2 70.3,482.8 C73.5,481.4 77.0,479.2 80.5,476.4 C84.0,473.6 87.6,469.4 91.0,466.0 C94.4,462.6 97.5,458.7 101.0,456.0 C104.5,453.3 108.4,451.6 112.0,450.0 C115.6,448.4 119.4,447.4 122.7,446.3 C126.0,445.2 128.8,444.5 132.0,443.3 C135.2,442.1 139.2,440.6 141.9,439.4 C144.6,438.2 146.2,437.1 148.0,436.0 C149.8,434.9 151.5,433.3 153.0,432.5 C154.5,431.7 155.9,431.3 157.2,431.3 C158.5,431.3 159.7,431.8 161.0,432.6 C162.3,433.4 163.5,434.8 165.0,436.2 C166.5,437.6 168.3,439.6 170.0,441.0 C171.7,442.4 172.2,442.9 175.0,444.3 C177.8,445.7 183.2,448.1 187.0,449.5 C190.8,450.9 194.9,452.6 198.1,452.9 C201.3,453.1 203.4,451.8 206.0,451.0 C208.6,450.2 210.1,449.1 213.4,448.3 C216.7,447.5 223.6,446.6 225.7,446.3" stroke="#f25555" stroke-width="1.3"/>
<path d="M61.5,482.5 C61.9,482.7 63.1,483.3 64.0,483.8 C64.9,484.3 66.5,485.2 67.0,485.5" stroke="#7a3a9a" stroke-width="1.1"/>
<path d="M220.0,485.5 C220.5,485.2 222.0,484.5 223.0,484.0 C224.0,483.5 225.5,482.8 226.0,482.5" stroke="#7a3a9a" stroke-width="1.1"/>
</g>
<line x1="122.7" y1="340.1" x2="122.7" y2="485.5" stroke="#7d8d9b" stroke-width="0.9"/>
<line x1="157.7" y1="340.1" x2="157.7" y2="485.5" stroke="#7d8d9b" stroke-width="0.9"/>
<rect x="61.9" y="340.1" width="163.8" height="145.4" fill="none" stroke="#7d8f9e" stroke-width="1.4"/>
<line x1="61.9" y1="340.1" x2="61.9" y2="485.5" stroke="#7d8f9e" stroke-width="1.8"/>
<line x1="58.2" y1="340.1" x2="61.9" y2="340.1" stroke="#6f8190" stroke-width="1.1"/>
<text x="55.4" y="343.5" font-size="7.40" fill="#222" stroke="#222" stroke-width="0.15" text-anchor="end" font-weight="normal" >3.0</text>
<line x1="58.2" y1="352.2" x2="61.9" y2="352.2" stroke="#6f8190" stroke-width="1.1"/>
<text x="55.4" y="355.6" font-size="7.40" fill="#222" stroke="#222" stroke-width="0.15" text-anchor="end" font-weight="normal" >2.5</text>
<line x1="58.2" y1="364.3" x2="61.9" y2="364.3" stroke="#6f8190" stroke-width="1.1"/>
<text x="55.4" y="367.7" font-size="7.40" fill="#222" stroke="#222" stroke-width="0.15" text-anchor="end" font-weight="normal" >2.0</text>
<line x1="58.2" y1="376.4" x2="61.9" y2="376.4" stroke="#6f8190" stroke-width="1.1"/>
<text x="55.4" y="379.8" font-size="7.40" fill="#222" stroke="#222" stroke-width="0.15" text-anchor="end" font-weight="normal" >1.5</text>
<line x1="58.2" y1="388.6" x2="61.9" y2="388.6" stroke="#6f8190" stroke-width="1.1"/>
<text x="55.4" y="392.0" font-size="7.40" fill="#222" stroke="#222" stroke-width="0.15" text-anchor="end" font-weight="normal" >1.0</text>
<line x1="58.2" y1="400.7" x2="61.9" y2="400.7" stroke="#6f8190" stroke-width="1.1"/>
<text x="55.4" y="404.1" font-size="7.40" fill="#222" stroke="#222" stroke-width="0.15" text-anchor="end" font-weight="normal" >0.5</text>
<line x1="58.2" y1="412.8" x2="61.9" y2="412.8" stroke="#6f8190" stroke-width="1.1"/>
<text x="55.4" y="416.2" font-size="7.40" fill="#222" stroke="#222" stroke-width="0.15" text-anchor="end" font-weight="normal" >0.0</text>
<line x1="58.2" y1="424.9" x2="61.9" y2="424.9" stroke="#6f8190" stroke-width="1.1"/>
<text x="55.4" y="428.3" font-size="7.40" fill="#222" stroke="#222" stroke-width="0.15" text-anchor="end" font-weight="normal" >-0.5</text>
<line x1="58.2" y1="437.0" x2="61.9" y2="437.0" stroke="#6f8190" stroke-width="1.1"/>
<text x="55.4" y="440.4" font-size="7.40" fill="#222" stroke="#222" stroke-width="0.15" text-anchor="end" font-weight="normal" >-1.0</text>
<line x1="58.2" y1="449.1" x2="61.9" y2="449.1" stroke="#6f8190" stroke-width="1.1"/>
<text x="55.4" y="452.5" font-size="7.40" fill="#222" stroke="#222" stroke-width="0.15" text-anchor="end" font-weight="normal" >-1.5</text>
<line x1="58.2" y1="461.2" x2="61.9" y2="461.2" stroke="#6f8190" stroke-width="1.1"/>
<text x="55.4" y="464.6" font-size="7.40" fill="#222" stroke="#222" stroke-width="0.15" text-anchor="end" font-weight="normal" >-2.0</text>
<line x1="58.2" y1="473.4" x2="61.9" y2="473.4" stroke="#6f8190" stroke-width="1.1"/>
<text x="55.4" y="476.8" font-size="7.40" fill="#222" stroke="#222" stroke-width="0.15" text-anchor="end" font-weight="normal" >-2.5</text>
<line x1="58.2" y1="485.5" x2="61.9" y2="485.5" stroke="#6f8190" stroke-width="1.1"/>
<text x="55.4" y="488.9" font-size="7.40" fill="#222" stroke="#222" stroke-width="0.15" text-anchor="end" font-weight="normal" >-3.0</text>
<text transform="translate(36.2,411.5) rotate(-90)" font-size="7.6" fill="#222" text-anchor="middle">Energy (eV)</text>
<text x="122.9" y="496.0" font-size="8.00" fill="#222" stroke="#222" stroke-width="0.15" text-anchor="middle" font-weight="normal" >M</text>
<text x="156.4" y="496.0" font-size="8.00" fill="#222" stroke="#222" stroke-width="0.15" text-anchor="middle" font-weight="normal" >K</text>
<text x="163.9" y="398.9" font-size="7.60" fill="#3a82c6" stroke="#3a82c6" stroke-width="0.00" text-anchor="start" font-weight="normal" >0.31m<tspan font-size="5.2" baseline-shift="-1.6">0</tspan> n-type</text>
<text x="163.9" y="431.6" font-size="7.60" fill="#f25555" stroke="#f25555" stroke-width="0.00" text-anchor="start" font-weight="normal" >0.38m<tspan font-size="5.2" baseline-shift="-1.6">0</tspan> p-type</text>
<text x="2.9" y="329.0" font-size="10.50" fill="#111" stroke="#111" stroke-width="0.00" text-anchor="start" font-weight="bold" >c</text>
<rect x="359" y="337.2" width="25.8" height="148.6" fill="#fdf1d9"/>
<line x1="359.5" y1="388.3" x2="629.0" y2="388.3" stroke="#8a8a8a" stroke-width="0.7" stroke-dasharray="2.2,1.6"/>
<line x1="359.5" y1="394.5" x2="629.0" y2="394.5" stroke="#8a8a8a" stroke-width="0.7" stroke-dasharray="2.2,1.6"/>
<line x1="359.5" y1="412.5" x2="590.0" y2="412.5" stroke="#8a8a8a" stroke-width="0.7" stroke-dasharray="2.2,1.6"/>
<line x1="359.5" y1="414.6" x2="590.0" y2="414.6" stroke="#8a8a8a" stroke-width="0.7" stroke-dasharray="2.2,1.6"/>
<line x1="359.5" y1="416.7" x2="590.0" y2="416.7" stroke="#8a8a8a" stroke-width="0.7" stroke-dasharray="2.2,1.6"/>
<line x1="359.5" y1="429.1" x2="590.0" y2="429.1" stroke="#8a8a8a" stroke-width="0.7" stroke-dasharray="2.2,1.6"/>
<rect x="306.3" y="341.5" width="8.6" height="4.1" fill="#8dcaf3" stroke="#3a3a3a" stroke-width="0.8"/>
<rect x="306.3" y="483.4" width="8.6" height="2.4" fill="#f9c5c4" stroke="#3a3a3a" stroke-width="0.8"/>
<rect x="326.6" y="449.6" width="8.4" height="36.2" fill="#f9c5c4" stroke="#3a3a3a" stroke-width="0.8"/>
<rect x="347.4" y="341.5" width="7.9" height="22.6" fill="#8dcaf3" stroke="#3a3a3a" stroke-width="0.8"/>
<rect x="347.4" y="475.5" width="7.9" height="10.3" fill="#f9c5c4" stroke="#3a3a3a" stroke-width="0.8"/>
<rect x="364.4" y="341.5" width="15.2" height="36.7" fill="#8dcaf3" stroke="#3a3a3a" stroke-width="0.8"/>
<rect x="364.4" y="414.7" width="15.2" height="71.1" fill="#f9c5c4" stroke="#3a3a3a" stroke-width="0.8"/>
<rect x="391.8" y="341.5" width="8.2" height="53.0" fill="#8dcaf3" stroke="#3a3a3a" stroke-width="0.8"/>
<rect x="391.8" y="433.7" width="8.2" height="52.1" fill="#f9c5c4" stroke="#3a3a3a" stroke-width="0.8"/>
<rect x="412.1" y="341.5" width="8.0" height="61.2" fill="#8dcaf3" stroke="#3a3a3a" stroke-width="0.8"/>
<rect x="412.1" y="421.5" width="8.0" height="64.3" fill="#f9c5c4" stroke="#3a3a3a" stroke-width="0.8"/>
<rect x="432.3" y="341.5" width="8.0" height="53.0" fill="#8dcaf3" stroke="#3a3a3a" stroke-width="0.8"/>
<rect x="432.3" y="413.2" width="8.0" height="72.6" fill="#f9c5c4" stroke="#3a3a3a" stroke-width="0.8"/>
<rect x="452.3" y="341.5" width="8.1" height="46.8" fill="#8dcaf3" stroke="#3a3a3a" stroke-width="0.8"/>
<rect x="452.3" y="408.6" width="8.1" height="77.2" fill="#f9c5c4" stroke="#3a3a3a" stroke-width="0.8"/>
<rect x="472.3" y="341.5" width="8.2" height="44.9" fill="#8dcaf3" stroke="#3a3a3a" stroke-width="0.8"/>
<rect x="472.3" y="429.5" width="8.2" height="56.3" fill="#f9c5c4" stroke="#3a3a3a" stroke-width="0.8"/>
<rect x="492.5" y="341.5" width="8.1" height="44.1" fill="#8dcaf3" stroke="#3a3a3a" stroke-width="0.8"/>
<rect x="492.5" y="419.3" width="8.1" height="66.5" fill="#f9c5c4" stroke="#3a3a3a" stroke-width="0.8"/>
<rect x="512.5" y="341.5" width="8.1" height="43.0" fill="#8dcaf3" stroke="#3a3a3a" stroke-width="0.8"/>
<rect x="512.5" y="409.2" width="8.1" height="76.6" fill="#f9c5c4" stroke="#3a3a3a" stroke-width="0.8"/>
<rect x="532.5" y="341.5" width="8.1" height="39.4" fill="#8dcaf3" stroke="#3a3a3a" stroke-width="0.8"/>
<rect x="532.5" y="404.9" width="8.1" height="80.9" fill="#f9c5c4" stroke="#3a3a3a" stroke-width="0.8"/>
<rect x="552.5" y="341.5" width="8.1" height="33.7" fill="#8dcaf3" stroke="#3a3a3a" stroke-width="0.8"/>
<rect x="552.5" y="416.2" width="8.1" height="69.6" fill="#f9c5c4" stroke="#3a3a3a" stroke-width="0.8"/>
<rect x="572.8" y="341.5" width="8.1" height="74.7" fill="#8dcaf3" stroke="#3a3a3a" stroke-width="0.8"/>
<rect x="572.8" y="473.3" width="8.1" height="12.5" fill="#f9c5c4" stroke="#3a3a3a" stroke-width="0.8"/>
<line x1="326.6" y1="342.2" x2="335" y2="342.2" stroke="#3a3a3a" stroke-width="1.5"/>
<rect x="303" y="366.0" width="280" height="2.5" fill="#ffffff"/>
<rect x="303" y="478.2" width="280" height="2.6" fill="#ffffff"/>
<rect x="359" y="366.0" width="25.8" height="2.5" fill="#fdf1d9"/>
<rect x="359" y="478.2" width="25.8" height="2.6" fill="#fdf1d9"/>
<line x1="364.4" y1="366.0" x2="379.6" y2="366.0" stroke="#3a3a3a" stroke-width="0.8"/>
<line x1="364.4" y1="368.5" x2="379.6" y2="368.5" stroke="#3a3a3a" stroke-width="0.8"/>
<line x1="364.4" y1="478.2" x2="364.4" y2="480.8" stroke="#3a3a3a" stroke-width="0.8"/>
<line x1="379.6" y1="478.2" x2="379.6" y2="480.8" stroke="#3a3a3a" stroke-width="0.8"/>
<line x1="306.3" y1="382.4" x2="314.9" y2="382.4" stroke="#5aa2dc" stroke-width="1.8"/>
<line x1="306.3" y1="439.5" x2="314.9" y2="439.5" stroke="#f4a0a4" stroke-width="1.8"/>
<line x1="326.6" y1="373.9" x2="335.0" y2="373.9" stroke="#5aa2dc" stroke-width="1.8"/>
<line x1="347.4" y1="372.4" x2="355.5" y2="372.4" stroke="#5aa2dc" stroke-width="1.8"/>
<line x1="347.4" y1="404.3" x2="355.5" y2="404.3" stroke="#f4a0a4" stroke-width="1.8"/>
<line x1="300.8" y1="341.5" x2="300.8" y2="485.8" stroke="#555" stroke-width="1.1"/>
<line x1="300.8" y1="485.8" x2="616" y2="485.8" stroke="#555" stroke-width="1.3"/>
<line x1="297" y1="343.0" x2="300.8" y2="343.0" stroke="#555" stroke-width="1"/>
<text x="293.5" y="346.6" font-size="8.00" fill="#222" stroke="#222" stroke-width="0.15" text-anchor="end" font-weight="normal" >1</text>
<line x1="297" y1="364.4" x2="300.8" y2="364.4" stroke="#555" stroke-width="1"/>
<text x="293.5" y="368.0" font-size="8.00" fill="#222" stroke="#222" stroke-width="0.15" text-anchor="end" font-weight="normal" >2</text>
<line x1="297" y1="389.7" x2="300.8" y2="389.7" stroke="#555" stroke-width="1"/>
<text x="293.5" y="393.3" font-size="8.00" fill="#222" stroke="#222" stroke-width="0.15" text-anchor="end" font-weight="normal" >4</text>
<line x1="297" y1="412.2" x2="300.8" y2="412.2" stroke="#555" stroke-width="1"/>
<text x="293.5" y="415.8" font-size="8.00" fill="#222" stroke="#222" stroke-width="0.15" text-anchor="end" font-weight="normal" >5</text>
<line x1="297" y1="435.5" x2="300.8" y2="435.5" stroke="#555" stroke-width="1"/>
<text x="293.5" y="439.1" font-size="8.00" fill="#222" stroke="#222" stroke-width="0.15" text-anchor="end" font-weight="normal" >6</text>
<line x1="297" y1="459.3" x2="300.8" y2="459.3" stroke="#555" stroke-width="1"/>
<text x="293.5" y="462.9" font-size="8.00" fill="#222" stroke="#222" stroke-width="0.15" text-anchor="end" font-weight="normal" >7</text>
<line x1="297" y1="483.7" x2="300.8" y2="483.7" stroke="#555" stroke-width="1"/>
<text x="293.5" y="487.3" font-size="8.00" fill="#222" stroke="#222" stroke-width="0.15" text-anchor="end" font-weight="normal" >10.2</text>
<line x1="298.4" y1="353.8" x2="300.8" y2="353.8" stroke="#555" stroke-width="1"/>
<line x1="298.4" y1="376.4" x2="300.8" y2="376.4" stroke="#555" stroke-width="1"/>
<line x1="298.4" y1="400.8" x2="300.8" y2="400.8" stroke="#555" stroke-width="1"/>
<line x1="298.4" y1="423.2" x2="300.8" y2="423.2" stroke="#555" stroke-width="1"/>
<line x1="298.4" y1="447.0" x2="300.8" y2="447.0" stroke="#555" stroke-width="1"/>
<line x1="298.4" y1="470.5" x2="300.8" y2="470.5" stroke="#555" stroke-width="1"/>
<rect x="297.5" y="366.2" width="6" height="2.2" fill="#fff"/>
<line x1="297.8" y1="367.1" x2="303.5" y2="365.1" stroke="#444" stroke-width="0.7"/>
<line x1="297.8" y1="369.3" x2="303.5" y2="367.3" stroke="#444" stroke-width="0.7"/>
<rect x="297.5" y="478.4" width="6" height="2.2" fill="#fff"/>
<line x1="297.8" y1="479.3" x2="303.5" y2="477.3" stroke="#444" stroke-width="0.7"/>
<line x1="297.8" y1="481.5" x2="303.5" y2="479.5" stroke="#444" stroke-width="0.7"/>
<text transform="translate(281.0,413.0) rotate(-90)" font-size="8.5" fill="#222" text-anchor="middle">|E<tspan font-size="5.0" baseline-shift="-1.8">vac</tspan>-E| (eV)</text>
<text x="263.6" y="328.7" font-size="10.50" fill="#111" stroke="#111" stroke-width="0.00" text-anchor="start" font-weight="bold" >d</text>
<text transform="translate(307.5,493.2) rotate(45)" font-size="7.8" fill="#222">SiO<tspan font-size="5.4" baseline-shift="-1.6">2</tspan></text>
<text transform="translate(326.3,493.2) rotate(45)" font-size="7.8" fill="#222">Al<tspan font-size="5.4" baseline-shift="-1.6">2</tspan>O<tspan font-size="5.4" baseline-shift="-1.6">3</tspan></text>
<text transform="translate(347.9,493.2) rotate(45)" font-size="7.8" fill="#222">HfO<tspan font-size="5.4" baseline-shift="-1.6">2</tspan></text>
<text transform="translate(370.0,493.2) rotate(45)" font-size="7.8" fill="#e2615f">WSe<tspan font-size="5.4" baseline-shift="-1.6">2</tspan></text>
<text transform="translate(392.2,493.2) rotate(45)" font-size="7.8" fill="#222">MoS<tspan font-size="5.4" baseline-shift="-1.6">2</tspan></text>
<text transform="translate(414.0,493.2) rotate(45)" font-size="7.8" fill="#222">InSe</text>
<text transform="translate(430.8,493.2) rotate(45)" font-size="7.8" fill="#222">Bi<tspan font-size="5.4" baseline-shift="-1.6">2</tspan>O<tspan font-size="5.4" baseline-shift="-1.6">2</tspan>Se</text>
<text transform="translate(456.1,493.2) rotate(45)" font-size="7.8" fill="#222">BP</text>
<text transform="translate(474.2,493.2) rotate(45)" font-size="7.8" fill="#222">WS<tspan font-size="5.4" baseline-shift="-1.6">2</tspan></text>
<text transform="translate(491.9,493.2) rotate(45)" font-size="7.8" fill="#222">MoSe<tspan font-size="5.4" baseline-shift="-1.6">2</tspan></text>
<text transform="translate(511.8,493.2) rotate(45)" font-size="7.8" fill="#222">MoTe<tspan font-size="5.4" baseline-shift="-1.6">2</tspan></text>
<text transform="translate(532.8,493.2) rotate(45)" font-size="7.8" fill="#222">WTe<tspan font-size="5.4" baseline-shift="-1.6">2</tspan></text>
<text transform="translate(553.2,493.2) rotate(45)" font-size="7.8" fill="#222">GaSe</text>
<text transform="translate(573.6,493.2) rotate(45)" font-size="7.8" fill="#222">SnS<tspan font-size="5.4" baseline-shift="-1.6">2</tspan></text>
<line x1="590" y1="382.4" x2="598" y2="382.4" stroke="#f25c5c" stroke-width="1.1"/>
<line x1="598.3" y1="382.4" x2="603.6" y2="366.5" stroke="#444" stroke-width="0.55"/>
<text x="604.8" y="365.8" font-size="8.00" fill="#222" stroke="#222" stroke-width="0.15" text-anchor="start" font-weight="normal" >Sc</text>
<line x1="590" y1="390.3" x2="598" y2="390.3" stroke="#f25c5c" stroke-width="1.1"/>
<line x1="598.3" y1="390.3" x2="604.6" y2="378.6" stroke="#444" stroke-width="0.55"/>
<text x="604.8" y="378.0" font-size="8.00" fill="#222" stroke="#222" stroke-width="0.15" text-anchor="start" font-weight="normal" >Al</text>
<line x1="590" y1="398.8" x2="598" y2="398.8" stroke="#f25c5c" stroke-width="2.0"/>
<line x1="598.6" y1="397.5" x2="605.2" y2="390.2" stroke="#444" stroke-width="0.55"/>
<text x="604.8" y="390.4" font-size="8.00" fill="#222" stroke="#222" stroke-width="0.15" text-anchor="start" font-weight="normal" >Ti</text>
<line x1="599.5" y1="399.2" x2="603.6" y2="400.6" stroke="#444" stroke-width="0.55"/>
<text x="604.8" y="403.2" font-size="8.00" fill="#222" stroke="#222" stroke-width="0.15" text-anchor="start" font-weight="normal" >Ag</text>
<line x1="590" y1="412.7" x2="598" y2="412.7" stroke="#f4a4a6" stroke-width="1.1"/>
<line x1="598.6" y1="412.7" x2="603.6" y2="412.7" stroke="#444" stroke-width="0.55"/>
<text x="604.8" y="415.6" font-size="8.00" fill="#222" stroke="#222" stroke-width="0.15" text-anchor="start" font-weight="normal" >Ni</text>
<line x1="590" y1="414.7" x2="598" y2="414.7" stroke="#f4a4a6" stroke-width="1.1"/>
<line x1="598.6" y1="414.7" x2="603.8" y2="423.0" stroke="#444" stroke-width="0.55"/>
<text x="604.8" y="428.4" font-size="8.00" fill="#222" stroke="#222" stroke-width="0.15" text-anchor="start" font-weight="normal" >Au</text>
<line x1="590" y1="416.7" x2="598" y2="416.7" stroke="#f4a4a6" stroke-width="1.1"/>
<line x1="598.6" y1="416.7" x2="603.8" y2="435.2" stroke="#444" stroke-width="0.55"/>
<text x="604.8" y="440.4" font-size="8.00" fill="#222" stroke="#222" stroke-width="0.15" text-anchor="start" font-weight="normal" >Pd</text>
<line x1="590" y1="429.1" x2="598" y2="429.1" stroke="#f4a4a6" stroke-width="1.1"/>
<line x1="598.6" y1="429.1" x2="603.8" y2="447.6" stroke="#444" stroke-width="0.55"/>
<text x="604.8" y="452.8" font-size="8.00" fill="#222" stroke="#222" stroke-width="0.15" text-anchor="start" font-weight="normal" >Pt</text>
<line x1="630.3" y1="388.2" x2="638" y2="388.2" stroke="#f25c5c" stroke-width="1.1"/>
<line x1="630.3" y1="393.5" x2="638" y2="393.5" stroke="#f25c5c" stroke-width="1.1"/>
<line x1="630.3" y1="394.8" x2="638" y2="394.8" stroke="#f25c5c" stroke-width="1.1"/>
<line x1="630.3" y1="396.1" x2="638" y2="396.1" stroke="#f25c5c" stroke-width="1.1"/>
<line x1="630.3" y1="401.5" x2="638" y2="401.5" stroke="#f25c5c" stroke-width="1.1"/>
<line x1="630.3" y1="408.2" x2="638" y2="408.2" stroke="#f25c5c" stroke-width="1.1"/>
<line x1="630.3" y1="411.6" x2="638" y2="411.6" stroke="#f25c5c" stroke-width="1.1"/>
<line x1="630.3" y1="412.6" x2="638" y2="412.6" stroke="#f25c5c" stroke-width="1.1"/>
<line x1="630.3" y1="422.4" x2="638" y2="422.4" stroke="#f25c5c" stroke-width="1.1"/>
<line x1="630.3" y1="425.1" x2="638" y2="425.1" stroke="#f25c5c" stroke-width="1.1"/>
<line x1="630.3" y1="433.5" x2="638" y2="433.5" stroke="#f25c5c" stroke-width="1.1"/>
<line x1="630.3" y1="437.3" x2="638" y2="437.3" stroke="#f25c5c" stroke-width="1.1"/>
<polyline points="638,393.5 640,393.5 649.5,345.3" fill="none" stroke="#444" stroke-width="0.55"/>
<text x="650.5" y="348.1" font-size="8.00" fill="#222" stroke="#222" stroke-width="0.15" text-anchor="start" font-weight="normal" >Y-MoS<tspan font-size="5.4" baseline-shift="-1.6">2</tspan></text>
<polyline points="638,394.8 640,394.8 649.5,355.9" fill="none" stroke="#444" stroke-width="0.55"/>
<text x="650.5" y="358.7" font-size="8.00" fill="#222" stroke="#222" stroke-width="0.15" text-anchor="start" font-weight="normal" >1T-MoTe<tspan font-size="5.4" baseline-shift="-1.6">2</tspan></text>
<polyline points="638,394.8 640,394.8 649.5,366.9" fill="none" stroke="#444" stroke-width="0.55"/>
<text x="650.5" y="369.7" font-size="8.00" fill="#222" stroke="#222" stroke-width="0.15" text-anchor="start" font-weight="normal" >Y-InSe</text>
<polyline points="638,396.1 640,396.1 649.5,376.7" fill="none" stroke="#444" stroke-width="0.55"/>
<text x="650.5" y="379.5" font-size="8.00" fill="#222" stroke="#222" stroke-width="0.15" text-anchor="start" font-weight="normal" >1T-WSe<tspan font-size="5.4" baseline-shift="-1.6">2</tspan></text>
<polyline points="638,396.1 640,396.1 649.5,387.3" fill="none" stroke="#444" stroke-width="0.55"/>
<text x="650.5" y="390.1" font-size="8.00" fill="#222" stroke="#222" stroke-width="0.15" text-anchor="start" font-weight="normal" >1T-MoSe<tspan font-size="5.4" baseline-shift="-1.6">2</tspan></text>
<polyline points="638,401.5 640,401.5 649.5,397.9" fill="none" stroke="#444" stroke-width="0.55"/>
<text x="650.5" y="400.7" font-size="8.00" fill="#222" stroke="#222" stroke-width="0.15" text-anchor="start" font-weight="normal" >1T-WS<tspan font-size="5.4" baseline-shift="-1.6">2</tspan></text>
<polyline points="638,408.2 640,408.2 649.5,408.9" fill="none" stroke="#444" stroke-width="0.55"/>
<text x="650.5" y="411.7" font-size="8.00" fill="#222" stroke="#222" stroke-width="0.15" text-anchor="start" font-weight="normal" >1T-WTe<tspan font-size="5.4" baseline-shift="-1.6">2</tspan></text>
<polyline points="638,412.1 640,412.1 649.5,419.5" fill="none" stroke="#444" stroke-width="0.55"/>
<text x="650.5" y="422.3" font-size="8.00" fill="#222" stroke="#222" stroke-width="0.15" text-anchor="start" font-weight="normal" >1T-MoS<tspan font-size="5.4" baseline-shift="-1.6">2</tspan></text>
<polyline points="638,422.4 640,422.4 649.5,430.4" fill="none" stroke="#444" stroke-width="0.55"/>
<text x="650.5" y="433.2" font-size="8.00" fill="#222" stroke="#222" stroke-width="0.15" text-anchor="start" font-weight="normal" >2H TaSe<tspan font-size="5.4" baseline-shift="-1.6">2</tspan></text>
<polyline points="638,422.4 640,422.4 649.5,441.4" fill="none" stroke="#444" stroke-width="0.55"/>
<text x="650.5" y="444.2" font-size="8.00" fill="#222" stroke="#222" stroke-width="0.15" text-anchor="start" font-weight="normal" >2H VSe<tspan font-size="5.4" baseline-shift="-1.6">2</tspan></text>
<polyline points="638,425.1 640,425.1 649.5,452.0" fill="none" stroke="#444" stroke-width="0.55"/>
<text x="650.5" y="454.8" font-size="8.00" fill="#222" stroke="#222" stroke-width="0.15" text-anchor="start" font-weight="normal" >2H NbSe<tspan font-size="5.4" baseline-shift="-1.6">2</tspan></text>
<polyline points="638,433.5 640,433.5 649.5,463.0" fill="none" stroke="#444" stroke-width="0.55"/>
<text x="650.5" y="465.8" font-size="8.00" fill="#222" stroke="#222" stroke-width="0.15" text-anchor="start" font-weight="normal" >2H TaS<tspan font-size="5.4" baseline-shift="-1.6">2</tspan></text>
<polyline points="638,437.3 640,437.3 649.5,473.6" fill="none" stroke="#444" stroke-width="0.55"/>
<text x="650.5" y="476.4" font-size="8.00" fill="#222" stroke="#222" stroke-width="0.15" text-anchor="start" font-weight="normal" >2H VS<tspan font-size="5.4" baseline-shift="-1.6">2</tspan></text>
<polyline points="638,437.3 640,437.3 649.5,485.4" fill="none" stroke="#444" stroke-width="0.55"/>
<text x="650.5" y="488.2" font-size="8.00" fill="#222" stroke="#222" stroke-width="0.15" text-anchor="start" font-weight="normal" >2H NbS<tspan font-size="5.4" baseline-shift="-1.6">2</tspan></text>
</svg>
</body></html>
